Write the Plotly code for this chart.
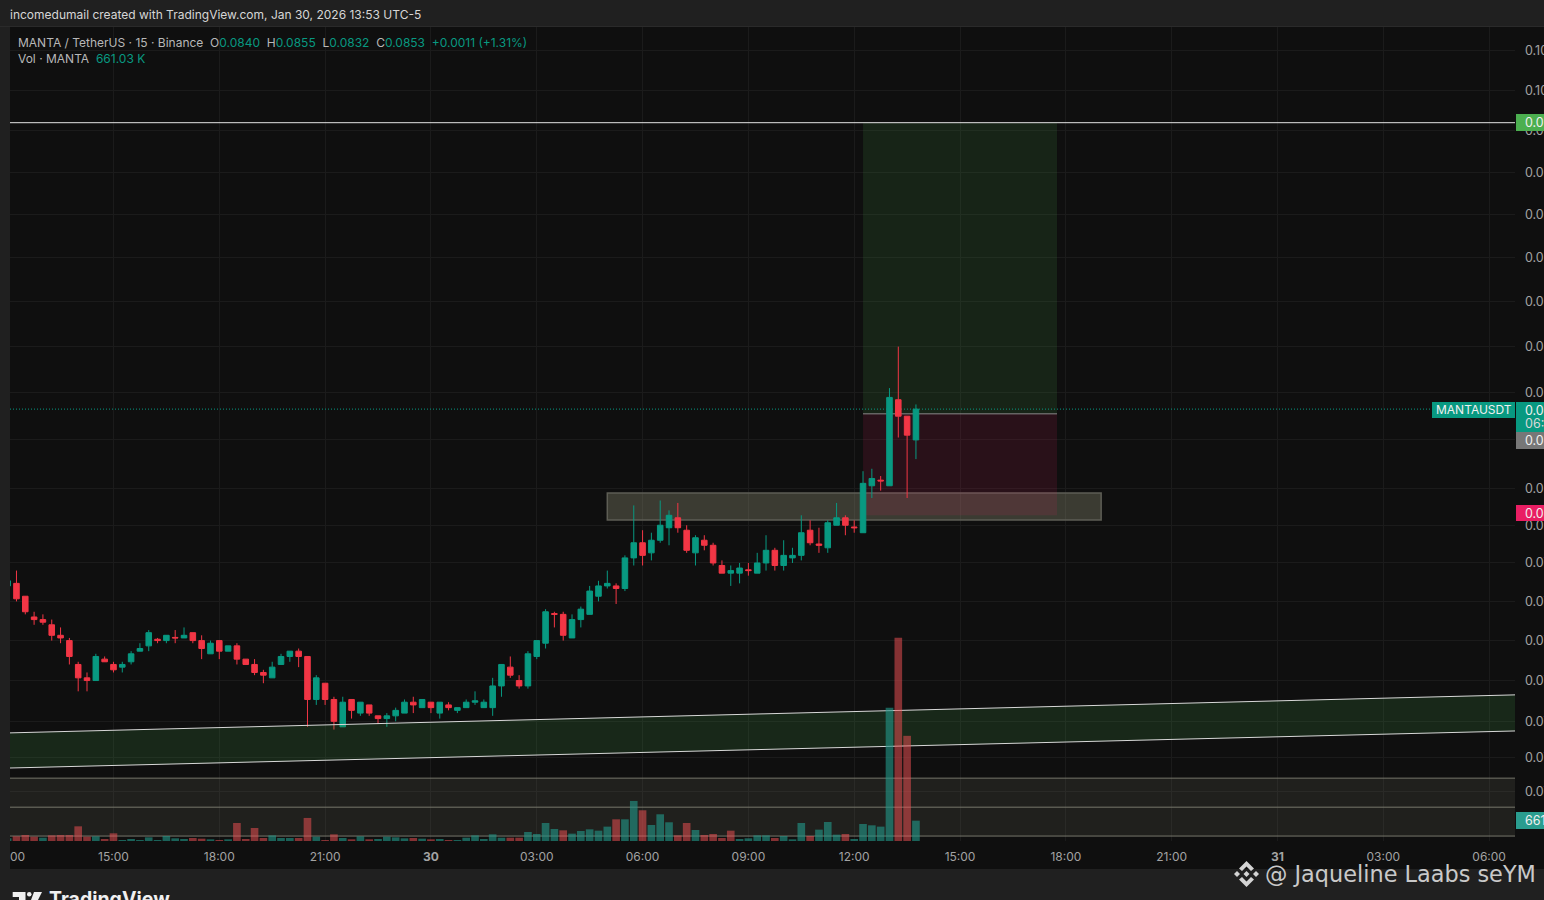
import numpy as np
import pandas as pd
import plotly.graph_objects as go

# 15 minute bars, Jan 29 12:00 to Jan 30 13:45
times = pd.date_range("2026-01-29 12:00", periods=104, freq="15min")

opens = [
    0.0781,
    0.0782, 0.0777, 0.0769, 0.0768, 0.0766, 0.0762, 0.0760, 0.0751, 0.0746, 0.0745,
    0.0753, 0.0751, 0.0750, 0.0752, 0.0756, 0.0758, 0.07605, 0.0760, 0.07612, 0.0761,
    0.0763, 0.0760, 0.0755, 0.0760, 0.0756, 0.0758, 0.0753, 0.0751, 0.0748, 0.0746,
    0.0751, 0.0754, 0.0756, 0.0754, 0.0738, 0.0744, 0.0738, 0.0728, 0.0738, 0.0733,
    0.0736, 0.0732, 0.0731, 0.0732, 0.0733, 0.0737, 0.0735, 0.0737, 0.0733, 0.0736,
    0.0734, 0.0735, 0.0737, 0.0735, 0.0735, 0.0743, 0.0750, 0.0745, 0.0743, 0.0754,
    0.0759, 0.07703, 0.0770, 0.0761, 0.0768, 0.0770, 0.0777, 0.0781, 0.0781, 0.0780,
    0.0792, 0.0798, 0.0794, 0.0799, 0.0804, 0.0808, 0.0803, 0.0794, 0.0799, 0.0797,
    0.0789, 0.0786, 0.0786, 0.07873, 0.0786, 0.0790, 0.0795, 0.0789, 0.0792, 0.0793,
    0.0803, 0.07975, 0.0796, 0.0805, 0.0808, 0.08043, 0.0802, 0.0821, 0.08233, 0.0821,
    0.0857, 0.0850, 0.0840,
]
highs = [
    0.0784,
    0.0787, 0.0777, 0.0771, 0.0770, 0.0768, 0.0765, 0.0761, 0.0752, 0.0748, 0.0755,
    0.0754, 0.0752, 0.0752, 0.0756, 0.0759, 0.0764, 0.0761, 0.0762, 0.0764, 0.0765,
    0.0763, 0.0762, 0.0760, 0.0760, 0.0758, 0.0759, 0.0753, 0.0753, 0.0749, 0.0752,
    0.0755, 0.0756, 0.0757, 0.0754, 0.0747, 0.0744, 0.0739, 0.0739, 0.0738, 0.0737,
    0.0736, 0.0732, 0.0733, 0.0735, 0.0738, 0.0739, 0.0738, 0.0737, 0.0737, 0.0737,
    0.0735, 0.0738, 0.0741, 0.0738, 0.0746, 0.0751, 0.0754, 0.0747, 0.0756, 0.0760,
    0.0772, 0.0771, 0.0771, 0.0770, 0.0773, 0.0781, 0.0783, 0.0787, 0.0782, 0.0793,
    0.0813, 0.0803, 0.0802, 0.0815, 0.0811, 0.0814, 0.0805, 0.0801, 0.0801, 0.0798,
    0.0791, 0.0789, 0.0790, 0.0790, 0.0794, 0.0801, 0.0796, 0.0799, 0.0796, 0.0809,
    0.0807, 0.0804, 0.0807, 0.0814, 0.0809, 0.0807, 0.0827, 0.0828, 0.0825, 0.0862,
    0.0880, 0.0850, 0.0855,
]
lows = [
    0.0780,
    0.0775, 0.0770, 0.0766, 0.0766, 0.0760, 0.0759, 0.0751, 0.0741, 0.0741, 0.0745,
    0.0752, 0.0748, 0.0748, 0.0751, 0.0756, 0.0756, 0.0759, 0.0759, 0.0759, 0.0761,
    0.0759, 0.0753, 0.0755, 0.0753, 0.0756, 0.0751, 0.0751, 0.0747, 0.0744, 0.0746,
    0.0751, 0.0752, 0.0750, 0.0728, 0.0736, 0.0736, 0.0727, 0.0728, 0.0731, 0.0732,
    0.0732, 0.0729, 0.0728, 0.0730, 0.0733, 0.0733, 0.0735, 0.0733, 0.0731, 0.0734,
    0.0733, 0.0735, 0.0736, 0.0735, 0.0732, 0.0739, 0.0746, 0.0742, 0.0742, 0.0753,
    0.0757, 0.0765, 0.0760, 0.0761, 0.0765, 0.0770, 0.0775, 0.0780, 0.0774, 0.0779,
    0.0789, 0.0789, 0.0791, 0.0798, 0.0797, 0.0802, 0.0794, 0.0789, 0.0795, 0.0789,
    0.0786, 0.0781, 0.0782, 0.0785, 0.0786, 0.0787, 0.0787, 0.0787, 0.0790, 0.0791,
    0.0797, 0.0794, 0.0794, 0.0805, 0.0801, 0.0802, 0.0802, 0.0816, 0.0819, 0.0821,
    0.0841, 0.0816, 0.0832,
]
closes = [
    0.0783,
    0.0776, 0.0771, 0.0768, 0.0767, 0.0762, 0.0761, 0.0754, 0.0746, 0.0745, 0.0754,
    0.0752, 0.0749, 0.0751, 0.0755, 0.0757, 0.0763, 0.0760, 0.0762, 0.0761, 0.0762,
    0.0760, 0.0757, 0.0759, 0.0756, 0.0758, 0.0753, 0.0751, 0.0748, 0.0747, 0.0750,
    0.0754, 0.0756, 0.0754, 0.0738, 0.0746, 0.0738, 0.0730, 0.0737, 0.0734, 0.0737,
    0.0733, 0.0731, 0.0732, 0.0734, 0.0737, 0.0736, 0.0738, 0.0735, 0.0737, 0.0735,
    0.0735, 0.0737, 0.07375, 0.0737, 0.0743, 0.0751, 0.0747, 0.0743, 0.0755, 0.0760,
    0.0771, 0.0770, 0.0762, 0.0768, 0.0772, 0.0779, 0.0781, 0.0782, 0.0780, 0.0792,
    0.0798, 0.0793, 0.0799, 0.0805, 0.0809, 0.0804, 0.0795, 0.0800, 0.0797, 0.0790,
    0.0786, 0.0787, 0.0788, 0.0787, 0.0790, 0.0795, 0.0789, 0.0793, 0.0793, 0.0802,
    0.0798, 0.0797, 0.0806, 0.0808, 0.0805, 0.0804, 0.0822, 0.0824, 0.0823, 0.0858,
    0.0850, 0.0842, 0.0853,
]
# volume in thousands of MANTA
volumes = [
    87,
    152, 195, 141, 108, 184, 195, 195, 477, 141, 152,
    65, 250, 33, 65, 33, 119, 33, 163, 87, 65,
    98, 76, 54, 33, 54, 586, 65, 423, 98, 184,
    98, 98, 98, 749, 141, 33, 217, 98, 54, 152,
    54, 65, 141, 119, 87, 98, 76, 54, 65, 33,
    33, 108, 184, 65, 217, 108, 108, 108, 293, 228,
    586, 391, 347, 239, 326, 380, 336, 467, 705, 705,
    1302, 998, 521, 868, 608, 184, 586, 358, 195, 228,
    98, 336, 65, 87, 184, 184, 98, 163, 54, 586,
    163, 369, 618, 206, 228, 65, 553, 510, 467, 4329,
    6607, 3418, 661,
]
vol_side = (
    "g" "rrrgrrrrrg" "rrgggggggg" "rrgrgrrrrg" "ggrrgrrgrg" "rggggrgrgr"
    "ggggggrrgg" "ggrgggggrg" "grgggrrgrr" "rrggggrggg" "rgggrggggg" "rrg"
)

price_ticks = [0.1020, 0.1000, 0.0980, 0.0960, 0.0940, 0.0920, 0.0900, 0.0880, 0.0860, 0.0840,
               0.0820, 0.0805, 0.0790, 0.0775, 0.0760, 0.0745, 0.0730, 0.0717, 0.0705]
time_ticks = ["2026-01-29 15:00", "2026-01-29 18:00", "2026-01-29 21:00", "2026-01-30 00:00",
              "2026-01-30 03:00", "2026-01-30 06:00", "2026-01-30 09:00", "2026-01-30 12:00",
              "2026-01-30 15:00", "2026-01-30 18:00", "2026-01-30 21:00", "2026-01-31 00:00",
              "2026-01-31 03:00", "2026-01-31 06:00"]
time_labels = ["15:00", "18:00", "21:00", "<b>30</b>", "03:00", "06:00", "09:00", "12:00",
               "15:00", "18:00", "21:00", "<b>31</b>", "03:00", "06:00"]

# drawings on the chart
target_price = 0.0984
entry_price = 0.0851
stop_price = 0.0809
last_price = 0.0853
box_top, box_bottom = 0.08181, 0.08071
band_levels = [0.07096, 0.06994, 0.06894]
x_start, x_end = "2026-01-29 12:04", "2026-01-31 06:44"
channel_x = [x_start, x_end]
channel_top = [0.07258, 0.07397]
channel_bottom = [0.07132, 0.07265]

UP = "#089981"
DOWN = "#f23645"
BG = "#0f0f0f"
FRAME = "#202020"
TICK = "#a3a3a3"
FONT = "Inter, Liberation Sans, sans-serif"


def px(x):
    return (x - 10) / 1505


def py(y):
    return (841 - y) / 814


def label(text, x, y, size=12, color="#c8c8c8", family=FONT):
    fig.add_annotation(text=text, x=px(x), y=py(y), xref="paper", yref="paper", xanchor="left",
                       yanchor="middle", showarrow=False, align="left", borderpad=0, borderwidth=0,
                       font=dict(size=size, color=color, family=family))


def rect(x0, x1, y0, y1, color):
    fig.add_shape(type="rect", xref="paper", yref="paper", x0=px(x0), x1=px(x1), y0=py(y0), y1=py(y1),
                  fillcolor=color, line_width=0, layer="above")


def price_tag(price, y0, y1, color):
    rect(1516, 1544, y0, y1, color)
    label(price, 1525, (y0 + y1) / 2 if y1 - y0 < 20 else y0 + 8, size=12.5, color="#f0f0f0")


def polygon(points, color):
    path = "M " + " L ".join(f"{px(x)} {py(y)}" for x, y in points) + " Z"
    fig.add_shape(type="path", xref="paper", yref="paper", layer="above", fillcolor=color, line_width=0, path=path)


def zone(x0, x1, y0, y1, color, line=None):
    fig.add_shape(type="rect", xref="x", yref="y", x0=x0, x1=x1, y0=y0, y1=y1, fillcolor=color,
                  line=line or dict(width=0), layer="between")


def level_line(x0, x1, y, line):
    fig.add_shape(type="line", xref="x", yref="y", x0=x0, x1=x1, y0=y, y1=y, line=line, layer="between")


fig = go.Figure()

fig.add_trace(go.Scatter(x=channel_x, y=channel_top, mode="lines", yaxis="y",
                         line=dict(color="#d8d8d8", width=1), hoverinfo="skip"))
fig.add_trace(go.Scatter(x=channel_x, y=channel_bottom, mode="lines", yaxis="y", fill="tonexty",
                         fillcolor="rgba(76,175,80,0.16)", line=dict(color="#d8d8d8", width=1), hoverinfo="skip"))

fig.add_trace(go.Candlestick(
    x=times, open=opens, high=highs, low=lows, close=closes, yaxis="y", whiskerwidth=0,
    increasing=dict(line=dict(color=UP, width=1), fillcolor=UP),
    decreasing=dict(line=dict(color=DOWN, width=1), fillcolor=DOWN),
))

vol_colors = ["rgba(34,150,135,0.62)" if s == "g" else "rgba(242,80,85,0.52)" for s in vol_side]
fig.add_trace(go.Bar(x=times, y=volumes, width=780000, marker=dict(color=vol_colors, line_width=0),
                     yaxis="y2", hoverinfo="skip"))

fig.update_layout(
    width=1544, height=900, margin=dict(l=10, r=29, t=27, b=59),
    paper_bgcolor=BG, plot_bgcolor=BG, showlegend=False, boxgap=0.1,
    font=dict(family=FONT, color=TICK, size=12),
    xaxis=dict(type="date", range=[x_start, x_end], rangeslider=dict(visible=False),
               tickmode="array", tickvals=time_ticks, ticktext=time_labels, ticks="", ticklabelstandoff=7,
               showgrid=True, gridcolor="#1b1b1b", gridwidth=1, zeroline=False, showline=False,
               tickfont=dict(size=12, color=TICK), automargin=False),
    yaxis=dict(type="log", side="right", range=[np.log10(0.06877), np.log10(0.10321)],
               tickmode="array", tickvals=price_ticks, ticktext=[f"{v:.4f}" for v in price_ticks],
               ticks="", ticklabelstandoff=9, showgrid=True, gridcolor="#1b1b1b", gridwidth=1,
               zeroline=False, showline=False, automargin=False, tickfont=dict(size=12.5, color=TICK)),
    yaxis2=dict(overlaying="y", side="left", range=[0, 26455], showticklabels=False, showgrid=False,
                zeroline=False, ticks=""),
)

# long position and the grey zone
zone("2026-01-30 05:00", "2026-01-30 19:00", box_bottom, box_top, "rgba(150,150,120,0.33)",
     dict(color="#5e5e55", width=1.5))
zone("2026-01-30 12:15", "2026-01-30 17:45", entry_price, target_price, "rgba(76,175,80,0.13)")
zone("2026-01-30 12:15", "2026-01-30 17:45", stop_price, entry_price, "rgba(233,30,99,0.12)")
level_line("2026-01-30 12:15", "2026-01-30 17:45", entry_price, dict(color="#8a8a8a", width=1))

# full width levels
level_line(x_start, x_end, target_price, dict(color="#e4e4e4", width=1))
zone(x_start, x_end, band_levels[2], band_levels[0], "rgba(150,150,120,0.13)")
for level in band_levels:
    level_line(x_start, x_end, level, dict(color="#77776c", width=1))
level_line(x_start, "2026-01-31 04:23", last_price, dict(color=UP, width=1, dash="1px,2px"))

# frame around the pane
rect(0, 1544, 0, 26, FRAME)
rect(0, 10, 0, 900, FRAME)
rect(0, 1544, 869, 900, FRAME)
rect(0, 1544, 26, 27, "#2a2a2a")

# header and legend
label("incomedumail created with TradingView.com, Jan 30, 2026 13:53 UTC-5", 10, 15, size=12, color="#d6d6d6")
v = f'<span style="color:{UP}">%s</span>'
label("MANTA / TetherUS · 15 · Binance  O" + v % "0.0840" + "  H" + v % "0.0855" + "  L" + v % "0.0832"
      + "  C" + v % "0.0853" + "  " + v % "+0.0011 (+1.31%)", 18, 42, color="#b8b8b8")
label("Vol · MANTA  " + v % "661.03 K", 18, 59, color="#b8b8b8")
label("00", 10, 856, color=TICK)

# tags on the right
price_tag("0.0984", 114, 131, "#4caf50")
price_tag("0.0853", 402, 432, UP)
label("06:07", 1525, 423.5, size=12.5, color="#d8d8d8")
price_tag("0.0840", 432, 449, "#777777")
price_tag("0.0810", 505, 521, "#e91e63")
price_tag("661.03K", 812, 829, "#2a9d8f")
rect(1432, 1515, 402, 418, UP)
label("MANTAUSDT", 1436, 409.5, color="#f0f0f0")

# TradingView logo, cut by the bottom edge
polygon([(12.7, 892), (25.5, 892), (25.5, 900), (19, 900), (19, 897), (12.7, 897)], "#f0f0f0")
polygon([(34, 892), (42, 892), (38, 900), (31, 900)], "#f0f0f0")
fig.add_shape(type="circle", xref="paper", yref="paper", layer="above", fillcolor="#f0f0f0", line_width=0,
              x0=px(27), x1=px(31.5), y0=py(892), y1=py(896.5))
label("<b>TradingView</b>", 49, 899, size=19.5, color="#f0f0f0")

# watermark, binance style mark plus the name
mark = "#d4d4d4"
polygon([(1246.5, 861), (1254, 868.5), (1251, 871), (1246.5, 866.5), (1242, 871), (1239, 868.5)], mark)
polygon([(1246.5, 887), (1254, 879.5), (1251, 877), (1246.5, 881.5), (1242, 877), (1239, 879.5)], mark)
polygon([(1237, 871), (1240, 874), (1237, 877), (1234, 874)], mark)
polygon([(1256, 871), (1259, 874), (1256, 877), (1253, 874)], mark)
polygon([(1246.5, 871), (1249.5, 874), (1246.5, 877), (1243.5, 874)], mark)
label("@ Jaqueline Laabs seYM", 1265, 874, size=22.4, color="#c9c9c9", family="DejaVu Sans")

fig.write_html("out.html", config=dict(displayModeBar=False),
               post_script="document.body.style.margin='0';document.body.style.overflow='hidden';")
